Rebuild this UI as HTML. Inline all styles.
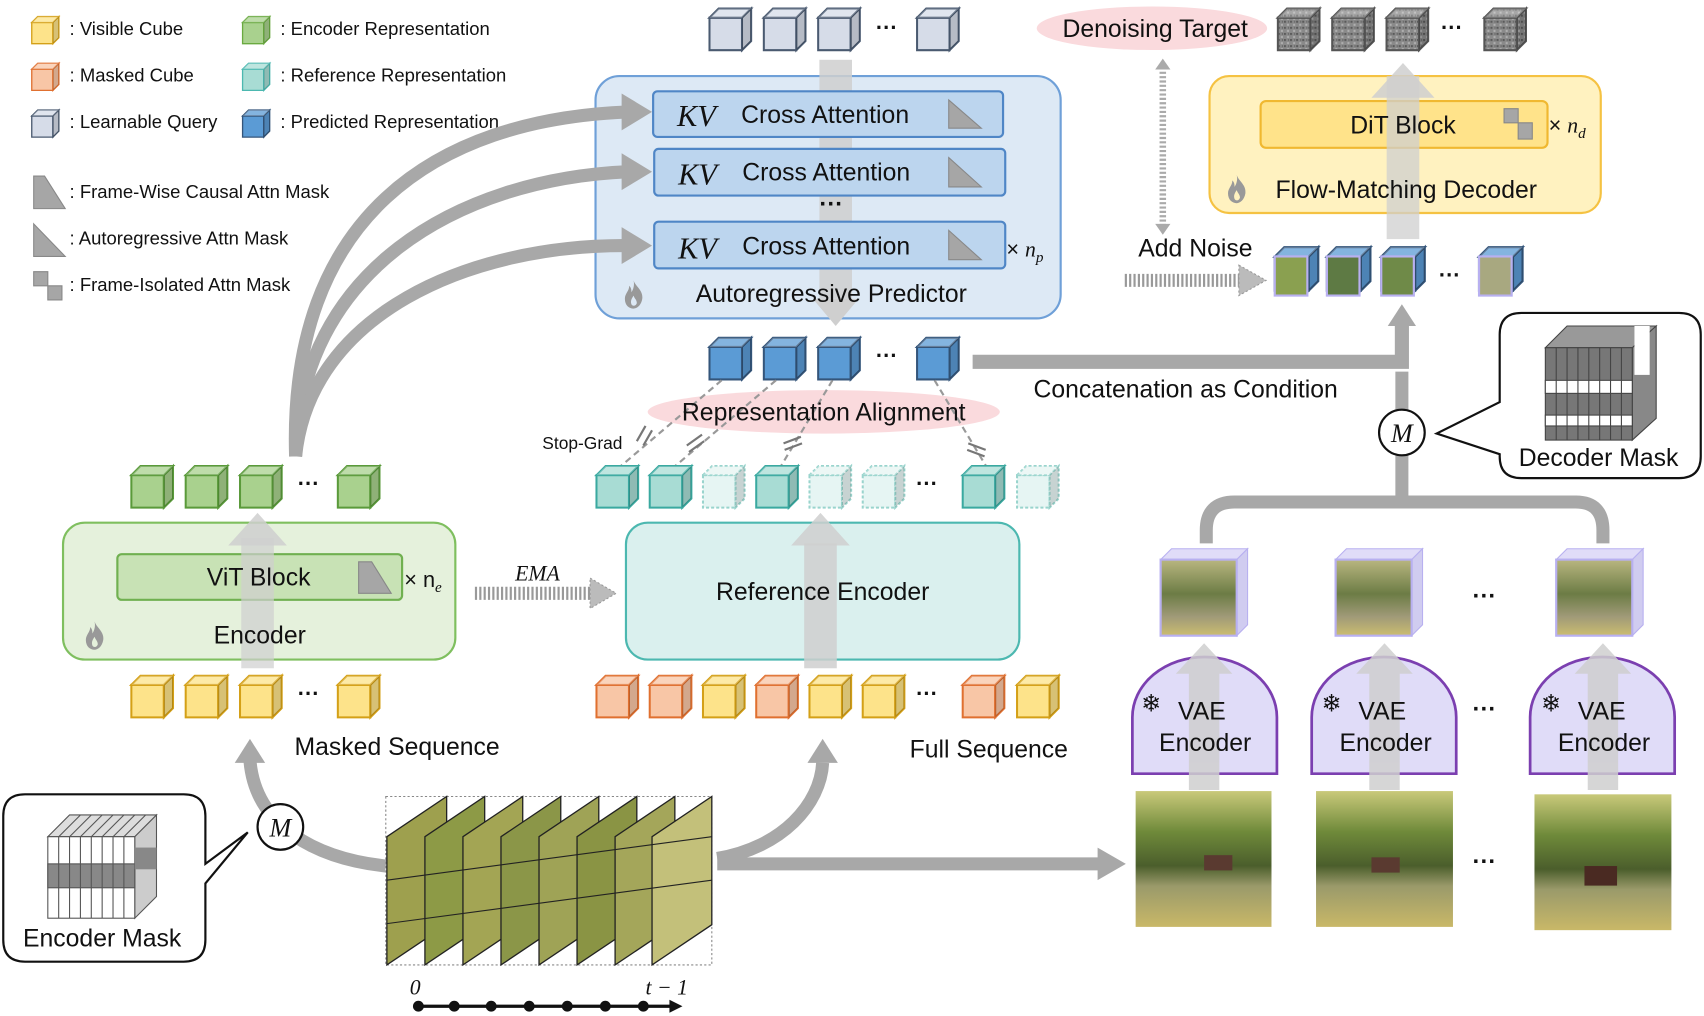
<!DOCTYPE html>
<html><head><meta charset="utf-8"><style>
html,body{margin:0;padding:0;background:#fff}
svg{display:block}
text{font-family:"Liberation Sans",sans-serif;fill:#111}
.lg{font-size:17px}
.big{font-size:22.8px}
.kv{font-family:"Liberation Serif",serif;font-style:italic;font-size:28px}
.it{font-family:"Liberation Serif",serif;font-style:italic}
</style></head><body>
<svg width="1704" height="1016" viewBox="0 0 1568 935" preserveAspectRatio="none" xmlns="http://www.w3.org/2000/svg">
<defs>
<symbol id="cube" viewBox="-2 -2 46 46" overflow="visible">
 <polygon points="0,9 32,9 32,41 0,41" stroke-width="2"/>
 <polygon points="0,9 9,0 41,0 32,9" stroke-width="2"/>
 <polygon points="32,9 41,0 41,32 32,41" stroke-width="2"/>
 <polygon points="0,9 9,0 41,0 32,9" fill="#fff" fill-opacity="0.25" stroke="none"/>
 <polygon points="32,9 41,0 41,32 32,41" fill="#000" fill-opacity="0.15" stroke="none"/>
</symbol>
<symbol id="flame" viewBox="0 0 20 26" overflow="visible">
 <path d="M10,0 C12,6 19,9 18,17 C17,23 13,26 10,26 C6,26 2,23 2,17 C2,12 6,10 6,5 C8,7 8,9 8,11 C10,8 11,4 10,0 Z M10,14 C8,17 7,19 8,22 C9,24 12,24 13,21 C13,18 11,17 10,14 Z" fill="#999" fill-rule="evenodd"/>
</symbol>
<linearGradient id="photo" x1="0" y1="0" x2="0" y2="1">
 <stop offset="0" stop-color="#c9c97a"/><stop offset="0.3" stop-color="#6f8a3a"/><stop offset="0.55" stop-color="#4b5e2c"/><stop offset="0.7" stop-color="#9a9a6a"/><stop offset="1" stop-color="#c9b868"/>
</linearGradient>
<linearGradient id="blur" x1="0" y1="0" x2="0" y2="1">
 <stop offset="0" stop-color="#b9b680"/><stop offset="0.45" stop-color="#6c7c45"/><stop offset="0.75" stop-color="#a09a78"/><stop offset="1" stop-color="#cbbd70"/>
</linearGradient>
<pattern id="noise" width="6" height="6" patternUnits="userSpaceOnUse">
 <rect width="6" height="6" fill="#8a8a8a"/><rect width="2" height="2" fill="#5a5a5a"/><rect x="3" y="3" width="2" height="2" fill="#b0b0b0"/><rect x="4" y="0" width="1" height="2" fill="#666"/>
</pattern>
</defs>

<!-- Legend -->
<use href="#cube" x="28" y="14" width="28" height="28" fill="#fde38a" stroke="#d4a017"/>
<text class="lg" x="64" y="32">: Visible Cube</text>
<use href="#cube" x="28" y="57" width="28" height="28" fill="#f8c6a6" stroke="#e07030"/>
<text class="lg" x="64" y="75">: Masked Cube</text>
<use href="#cube" x="28" y="100" width="28" height="28" fill="#d6dce8" stroke="#4a5a70"/>
<text class="lg" x="64" y="118">: Learnable Query</text>
<use href="#cube" x="222" y="14" width="28" height="28" fill="#a9d18e" stroke="#6aaa40"/>
<text class="lg" x="258" y="32">: Encoder Representation</text>
<use href="#cube" x="222" y="57" width="28" height="28" fill="#a8dcd4" stroke="#4cb8b0"/>
<text class="lg" x="258" y="75">: Reference Representation</text>
<use href="#cube" x="222" y="100" width="28" height="28" fill="#5b9bd5" stroke="#34557a"/>
<text class="lg" x="258" y="118">: Predicted Representation</text>
<polygon points="31,162 41,162 60,192 31,192" fill="#a6a6a6" stroke="#888"/>
<text class="lg" x="64" y="182">: Frame-Wise Causal Attn Mask</text>
<polygon points="31,206 60,236 31,236" fill="#a6a6a6" stroke="#888"/>
<text class="lg" x="64" y="225">: Autoregressive Attn Mask</text>
<path d="M31,250 h13 v13 h13 v13 h-13 v-13 h-13 z" fill="#a6a6a6" stroke="#888"/>
<text class="lg" x="64" y="268">: Frame-Isolated Attn Mask</text>

<!-- Predictor -->
<rect x="548" y="70" width="428" height="223" rx="22" fill="#dde9f5" stroke="#6fa0d8" stroke-width="2"/>
<rect x="754" y="55" width="30" height="220" fill="#cfcfcf" opacity="0.85"/>
<polygon points="748,275 790,275 769,300" fill="#cfcfcf"/>
<g>
<rect x="601" y="84" width="322" height="42" rx="4" fill="#bcd5ee" stroke="#4f86c6" stroke-width="2"/>
<rect x="602" y="137" width="323" height="43" rx="4" fill="#bcd5ee" stroke="#4f86c6" stroke-width="2"/>
<rect x="602" y="204" width="323" height="43" rx="4" fill="#bcd5ee" stroke="#4f86c6" stroke-width="2"/>
<text class="kv" x="623" y="116">KV</text><text class="big" x="682" y="113">Cross Attention</text>
<text class="kv" x="624" y="170">KV</text><text class="big" x="683" y="166">Cross Attention</text>
<text class="kv" x="624" y="238">KV</text><text class="big" x="683" y="234">Cross Attention</text>
<polygon points="873,92 903,118 873,118" fill="#a6a6a6" stroke="#888"/>
<polygon points="873,145 903,172 873,172" fill="#a6a6a6" stroke="#888"/>
<polygon points="873,212 903,239 873,239" fill="#a6a6a6" stroke="#888"/>
<text x="754" y="195" font-size="22" font-weight="bold">···</text>
<text x="926" y="236" font-size="20">× <tspan class="it">n</tspan><tspan class="it" font-size="14" dy="5">p</tspan></text>
<use href="#flame" x="573" y="258" width="20" height="26"/>
<text class="big" x="765" y="278" text-anchor="middle">Autoregressive Predictor</text>
</g>

<!-- big curved arrows from encoder to cross attention (on top of box) -->
<g fill="none" stroke="#a8a8a8" stroke-width="12">
<path d="M272,420 C265,200 400,110 578,103"/>
<path d="M272,420 C275,250 420,165 578,158"/>
<path d="M272,420 C285,290 430,225 578,226"/>
</g>
<polygon points="572,86 600,103 572,120" fill="#a8a8a8"/>
<polygon points="572,141 600,158 572,175" fill="#a8a8a8"/>
<polygon points="572,209 600,226 572,243" fill="#a8a8a8"/>

<!-- Query cubes -->
<g fill="#d6dce8" stroke="#4a5a70">
<use href="#cube" x="651" y="6" width="43" height="43"/>
<use href="#cube" x="701" y="6" width="43" height="43"/>
<use href="#cube" x="751" y="6" width="43" height="43"/>
<use href="#cube" x="842" y="6" width="43" height="43"/>
</g>
<text x="806" y="32" font-size="20" font-weight="bold">···</text>

<!-- predicted cubes -->
<g fill="#5b9bd5" stroke="#34557a">
<use href="#cube" x="651" y="309" width="43" height="43"/>
<use href="#cube" x="701" y="309" width="43" height="43"/>
<use href="#cube" x="751" y="309" width="43" height="43"/>
<use href="#cube" x="842" y="309" width="43" height="43"/>
</g>
<text x="806" y="334" font-size="20" font-weight="bold">···</text>

<!-- concat line -->
<path d="M895,333 H1290 V300" fill="none" stroke="#a8a8a8" stroke-width="13"/>
<polygon points="1277,300 1303,300 1290,280" fill="#a8a8a8"/>
<text class="big" x="951" y="366">Concatenation as Condition</text>

<!-- Rep alignment -->
<ellipse cx="758" cy="379" rx="162" ry="20" fill="#fadadd"/>
<g stroke="#999" stroke-width="2" stroke-dasharray="6,4" fill="none">
<path d="M664,350 L570,430"/><path d="M714,350 L620,430"/><path d="M766,350 L718,430"/><path d="M860,350 L908,430"/>
</g>
<g stroke="#777" stroke-width="2">
<path d="M586,406 l8,-14 M592,410 l8,-14"/>
<path d="M632,410 l14,-10 M634,416 l14,-10"/>
<path d="M721,408 l16,-6 M722,414 l16,-6"/>
<path d="M891,408 l16,6 M890,414 l16,6"/>
</g>
<text class="big" x="758" y="387" text-anchor="middle">Representation Alignment</text>
<text x="499" y="413" font-size="16">Stop-Grad</text>

<!-- teal cubes -->
<g fill="#a8dcd4" stroke="#3aa9a0">
<use href="#cube" x="547" y="427" width="43" height="43"/>
<use href="#cube" x="596" y="427" width="43" height="43"/>
<use href="#cube" x="694" y="427" width="43" height="43"/>
<use href="#cube" x="884" y="427" width="43" height="43"/>
</g>
<g fill="#e4f4f2" stroke="#8fd0c8" stroke-dasharray="3,2" opacity="0.9">
<use href="#cube" x="645" y="427" width="43" height="43"/>
<use href="#cube" x="743" y="427" width="43" height="43"/>
<use href="#cube" x="792" y="427" width="43" height="43"/>
<use href="#cube" x="934" y="427" width="43" height="43"/>
</g>
<text x="843" y="452" font-size="20" font-weight="bold">···</text>

<!-- Reference encoder -->
<rect x="576" y="481" width="362" height="126" rx="20" fill="#daf0ee" stroke="#4cb8b0" stroke-width="2"/>
<rect x="740" y="500" width="30" height="115" fill="#cfcfcf" opacity="0.85"/>
<polygon points="728,502 782,502 755,472" fill="#cfcfcf" opacity="0.85"/>
<text class="big" x="757" y="552" text-anchor="middle">Reference Encoder</text>

<!-- full sequence cubes -->
<g stroke-width="2">
<use href="#cube" x="547" y="620" width="43" height="43" fill="#f8c6a6" stroke="#e07030"/>
<use href="#cube" x="596" y="620" width="43" height="43" fill="#f8c6a6" stroke="#e07030"/>
<use href="#cube" x="645" y="620" width="43" height="43" fill="#fde38a" stroke="#d4a017"/>
<use href="#cube" x="694" y="620" width="43" height="43" fill="#f8c6a6" stroke="#e07030"/>
<use href="#cube" x="743" y="620" width="43" height="43" fill="#fde38a" stroke="#d4a017"/>
<use href="#cube" x="792" y="620" width="43" height="43" fill="#fde38a" stroke="#d4a017"/>
<use href="#cube" x="884" y="620" width="43" height="43" fill="#f8c6a6" stroke="#e07030"/>
<use href="#cube" x="934" y="620" width="43" height="43" fill="#fde38a" stroke="#d4a017"/>
</g>
<text x="843" y="645" font-size="20" font-weight="bold">···</text>
<text class="big" x="837" y="697">Full Sequence</text>

<!-- Encoder -->
<g fill="#a9d18e" stroke="#5a9a3a">
<use href="#cube" x="119" y="427" width="43" height="43"/>
<use href="#cube" x="169" y="427" width="43" height="43"/>
<use href="#cube" x="219" y="427" width="43" height="43"/>
<use href="#cube" x="309" y="427" width="43" height="43"/>
</g>
<text x="274" y="452" font-size="20" font-weight="bold">···</text>
<rect x="58" y="481" width="361" height="126" rx="20" fill="#e5f1dc" stroke="#7fbf5f" stroke-width="2"/>
<rect x="108" y="510" width="262" height="42" rx="4" fill="#c8e2b5" stroke="#70b050" stroke-width="2"/>
<rect x="222" y="495" width="30" height="120" fill="#cfcfcf" opacity="0.7"/>
<polygon points="210,502 264,502 237,472" fill="#cfcfcf" opacity="0.85"/>
<text class="big" x="238" y="539" text-anchor="middle">ViT Block</text>
<polygon points="330,517 342,517 360,546 330,546" fill="#a6a6a6" stroke="#888"/>
<text x="372" y="540" font-size="20">× n<tspan class="it" font-size="14" dy="5">e</tspan></text>
<use href="#flame" x="77" y="572" width="20" height="26"/>
<text class="big" x="239" y="592" text-anchor="middle">Encoder</text>
<g fill="#fde38a" stroke="#d4a017">
<use href="#cube" x="119" y="620" width="43" height="43"/>
<use href="#cube" x="169" y="620" width="43" height="43"/>
<use href="#cube" x="219" y="620" width="43" height="43"/>
<use href="#cube" x="309" y="620" width="43" height="43"/>
</g>
<text x="274" y="645" font-size="20" font-weight="bold">···</text>
<text class="big" x="271" y="695">Masked Sequence</text>

<!-- EMA -->
<path d="M437,546 H545" stroke="#999" stroke-width="12" stroke-dasharray="2,2" fill="none"/>
<polygon points="543,532 567,546 543,560" fill="#bbb" stroke="#999" stroke-dasharray="2,2"/>
<text x="474" y="534" font-size="20" class="it">EMA</text>

<!-- Encoder mask bubble -->
<path d="M23,731 H169 Q189,731 189,751 V795 L228,766 L189,813 V865 Q189,885 169,885 H23 Q3,885 3,865 V751 Q3,731 23,731 Z" fill="#fff" stroke="#111" stroke-width="2"/>
<g stroke="#555" stroke-width="1" fill="none">
<polygon points="44,770 64,750 144,750 124,770" fill="#ddd"/>
<polygon points="124,770 144,750 144,825 124,845" fill="#ccc"/>
<rect x="44" y="770" width="80" height="75" fill="#fff"/>
<rect x="44" y="795" width="80" height="22" fill="#888"/>
<rect x="124" y="780" width="20" height="20" fill="#888" stroke="none"/>
<path d="M54,770 v75 M64,770 v75 M74,770 v75 M84,770 v75 M94,770 v75 M104,770 v75 M114,770 v75 M54,770 l20,-20 M64,770 l20,-20 M74,770 l20,-20 M84,770 l20,-20 M94,770 l20,-20 M104,770 l20,-20 M114,770 l20,-20"/>
</g>
<text class="big" x="94" y="871" text-anchor="middle">Encoder Mask</text>

<!-- curved arrows from video -->
<path d="M355,797 C290,790 235,760 230,700" fill="none" stroke="#a8a8a8" stroke-width="12"/>
<polygon points="216,702 244,702 230,680" fill="#a8a8a8"/>
<circle cx="258" cy="761" r="21" fill="#fff" stroke="#111" stroke-width="2"/>
<text x="258" y="770" font-size="24" class="it" text-anchor="middle">M</text>
<path d="M660,790 C720,780 755,740 757,702" fill="none" stroke="#a8a8a8" stroke-width="12"/>
<polygon points="743,702 771,702 757,680" fill="#a8a8a8"/>
<path d="M660,795 H1012" stroke="#a8a8a8" stroke-width="12"/>
<polygon points="1010,780 1036,795 1010,810" fill="#a8a8a8"/>

<!-- video stack -->
<rect x="355" y="733" width="300" height="155" fill="none" stroke="#888" stroke-dasharray="2,2"/>
<g stroke="#222" stroke-width="1.2">
<polygon points="356,770 411,733 411,851 356,888" fill="#9ea04e"/>
<polygon points="391,770 446,733 446,851 391,888" fill="#8d9a46"/>
<polygon points="426,770 481,733 481,851 426,888" fill="#a3a554"/>
<polygon points="461,770 516,733 516,851 461,888" fill="#8b9648"/>
<polygon points="496,770 551,733 551,851 496,888" fill="#9fa356"/>
<polygon points="531,770 586,733 586,851 531,888" fill="#8a9444"/>
<polygon points="566,770 621,733 621,851 566,888" fill="#a4a65a"/>
<polygon points="600,770 655,733 655,851 600,888" fill="#c3c07a"/>
</g>
<g stroke="#222" stroke-width="1">
<path d="M356,810 L655,770 M356,850 L655,810"/>
</g>
<text x="377" y="915" font-size="20" class="it">0</text>
<text x="594" y="915" font-size="20" class="it">t − 1</text>
<path d="M383,926 H620" stroke="#111" stroke-width="3"/>
<polygon points="616,920 628,926 616,932" fill="#111"/>
<g fill="#111"><circle cx="385" cy="926" r="5"/><circle cx="418" cy="926" r="5"/><circle cx="452" cy="926" r="5"/><circle cx="487" cy="926" r="5"/><circle cx="522" cy="926" r="5"/><circle cx="557" cy="926" r="5"/><circle cx="592" cy="926" r="5"/></g>

<!-- Denoising target -->
<ellipse cx="1060" cy="26" rx="106" ry="20" fill="#fadadd"/>
<text class="big" x="1063" y="34" text-anchor="middle">Denoising Target</text>
<g fill="url(#noise)" stroke="#555">
<use href="#cube" x="1174" y="6" width="43" height="43"/>
<use href="#cube" x="1224" y="6" width="43" height="43"/>
<use href="#cube" x="1274" y="6" width="43" height="43"/>
<use href="#cube" x="1364" y="6" width="43" height="43"/>
</g>
<text x="1326" y="32" font-size="20" font-weight="bold">···</text>
<path d="M1070,62 V208" stroke="#aaa" stroke-width="6" stroke-dasharray="2,2"/>
<polygon points="1063,64 1077,64 1070,54" fill="#aaa"/>
<polygon points="1063,206 1077,206 1070,216" fill="#aaa"/>

<!-- Flow decoder -->
<rect x="1113" y="70" width="360" height="126" rx="18" fill="#fff2c0" stroke="#f5c242" stroke-width="2"/>
<rect x="1160" y="93" width="264" height="43" rx="5" fill="#ffe38a" stroke="#f0b830" stroke-width="2"/>
<rect x="1276" y="70" width="30" height="150" fill="#cfcfcf" opacity="0.75"/>
<polygon points="1262,90 1320,90 1291,58" fill="#cfcfcf" opacity="0.85"/>
<text class="big" x="1291" y="123" text-anchor="middle">DiT Block</text>
<path d="M1384,100 h13 v13 h13 v15 h-13 v-15 h-13 z" fill="#a6a6a6" stroke="#888"/>
<text x="1425" y="122" font-size="20">× <tspan class="it">n</tspan><tspan class="it" font-size="14" dy="5">d</tspan></text>
<use href="#flame" x="1128" y="161" width="20" height="26"/>
<text class="big" x="1294" y="182" text-anchor="middle">Flow-Matching Decoder</text>

<text class="big" x="1100" y="236" text-anchor="middle">Add Noise</text>
<path d="M1035,258 H1142" stroke="#999" stroke-width="12" stroke-dasharray="2,2"/>
<polygon points="1140,244 1165,258 1140,272" fill="#bbb" stroke="#999" stroke-dasharray="2,2"/>
<g stroke-width="2">
<use href="#cube" x="1171" y="222" width="45" height="52" fill="#5b9bd5" stroke="#34557a"/>
<use href="#cube" x="1219" y="222" width="45" height="52" fill="#5b9bd5" stroke="#34557a"/>
<use href="#cube" x="1269" y="222" width="45" height="52" fill="#5b9bd5" stroke="#34557a"/>
<use href="#cube" x="1359" y="222" width="45" height="52" fill="#5b9bd5" stroke="#34557a"/>
</g>
<rect x="1173" y="236" width="30" height="36" fill="#8aa050" stroke="#b8b0f0" stroke-width="2"/>
<rect x="1221" y="236" width="30" height="36" fill="#5e7a44" stroke="#b8b0f0" stroke-width="2"/>
<rect x="1271" y="236" width="30" height="36" fill="#6f8a48" stroke="#b8b0f0" stroke-width="2"/>
<rect x="1361" y="236" width="30" height="36" fill="#a8a880" stroke="#b8b0f0" stroke-width="2"/>
<text x="1324" y="260" font-size="20" font-weight="bold">···</text>

<!-- Decoder mask bubble -->
<path d="M1400,288 H1545 Q1565,288 1565,308 V420 Q1565,440 1545,440 H1400 Q1380,440 1380,420 V418 L1322,399 L1380,370 V308 Q1380,288 1400,288 Z" fill="#fff" stroke="#111" stroke-width="2"/>
<g stroke="#444" stroke-width="1">
<polygon points="1422,320 1442,300 1524,300 1502,320" fill="#999"/>
<polygon points="1502,320 1524,300 1524,385 1502,405" fill="#888"/>
<rect x="1504" y="300" width="14" height="45" fill="#fff" stroke="none"/>
<rect x="1422" y="320" width="80" height="85" fill="#777"/>
<rect x="1422" y="350" width="80" height="12" fill="#fff"/>
<rect x="1422" y="382" width="80" height="10" fill="#fff"/>
<path d="M1432,320 v85 M1442,320 v85 M1452,320 v85 M1462,320 v85 M1472,320 v85 M1482,320 v85 M1492,320 v85" fill="none"/>
</g>
<text class="big" x="1471" y="429" text-anchor="middle">Decoder Mask</text>

<!-- branches -->
<path d="M1110,500 V488 Q1110,462 1136,462 H1450 Q1475,462 1475,488 V500" fill="none" stroke="#a8a8a8" stroke-width="12"/>
<path d="M1290,462 V342" stroke="#a8a8a8" stroke-width="12"/>
<circle cx="1290" cy="398" r="21" fill="#fff" stroke="#111" stroke-width="2"/>
<text x="1290" y="407" font-size="24" class="it" text-anchor="middle">M</text>

<!-- image cubes -->
<g>
<polygon points="1068,515 1078,505 1148,505 1138,515" fill="#e0dcf8" stroke="#b8b0f0"/>
<polygon points="1138,515 1148,505 1148,575 1138,585" fill="#d0ccf0" stroke="#b8b0f0"/>
<rect x="1068" y="515" width="70" height="70" fill="url(#blur)" stroke="#b8b0f0" stroke-width="2"/>
<polygon points="1229,515 1239,505 1309,505 1299,515" fill="#e0dcf8" stroke="#b8b0f0"/>
<polygon points="1299,515 1309,505 1309,575 1299,585" fill="#d0ccf0" stroke="#b8b0f0"/>
<rect x="1229" y="515" width="70" height="70" fill="url(#blur)" stroke="#b8b0f0" stroke-width="2"/>
<polygon points="1432,515 1442,505 1512,505 1502,515" fill="#e0dcf8" stroke="#b8b0f0"/>
<polygon points="1502,515 1512,505 1512,575 1502,585" fill="#d0ccf0" stroke="#b8b0f0"/>
<rect x="1432" y="515" width="70" height="70" fill="url(#blur)" stroke="#b8b0f0" stroke-width="2"/>
</g>
<text x="1355" y="556" font-size="22" font-weight="bold">···</text>

<!-- VAE encoders -->
<g fill="#e0dcf8" stroke="#7b3fb0" stroke-width="2.5">
<path d="M1042,712 V660 A66,55 0 0 1 1175,660 V712 Z"/>
<path d="M1207,712 V660 A66,55 0 0 1 1340,660 V712 Z"/>
<path d="M1408,712 V660 A66,55 0 0 1 1541,660 V712 Z"/>
</g>
<g fill="#cfcfcf" opacity="0.85">
<rect x="1094" y="615" width="28" height="112"/><polygon points="1082,620 1134,620 1108,592"/>
<rect x="1260" y="615" width="28" height="112"/><polygon points="1248,620 1300,620 1274,592"/>
<rect x="1461" y="615" width="28" height="112"/><polygon points="1449,620 1501,620 1475,592"/>
</g>
<text x="1050" y="655" font-size="22" fill="#555">❄</text>
<text x="1216" y="655" font-size="22" fill="#555">❄</text>
<text x="1418" y="655" font-size="22" fill="#555">❄</text>
<text class="big" x="1084" y="662">VAE</text><text class="big" x="1109" y="691" text-anchor="middle">Encoder</text>
<text class="big" x="1250" y="662">VAE</text><text class="big" x="1275" y="691" text-anchor="middle">Encoder</text>
<text class="big" x="1452" y="662">VAE</text><text class="big" x="1476" y="691" text-anchor="middle">Encoder</text>
<text x="1355" y="660" font-size="22" font-weight="bold">···</text>

<!-- photos -->
<rect x="1045" y="728" width="125" height="125" fill="url(#photo)"/>
<rect x="1211" y="728" width="126" height="125" fill="url(#photo)"/>
<rect x="1412" y="731" width="126" height="125" fill="url(#photo)"/>
<rect x="1108" y="787" width="26" height="14" fill="#5a3a30"/>
<rect x="1262" y="789" width="26" height="14" fill="#5a3a30"/>
<rect x="1458" y="797" width="30" height="18" fill="#4a2a22"/>
<text x="1355" y="800" font-size="22" font-weight="bold">···</text>
</svg>
</body></html>
